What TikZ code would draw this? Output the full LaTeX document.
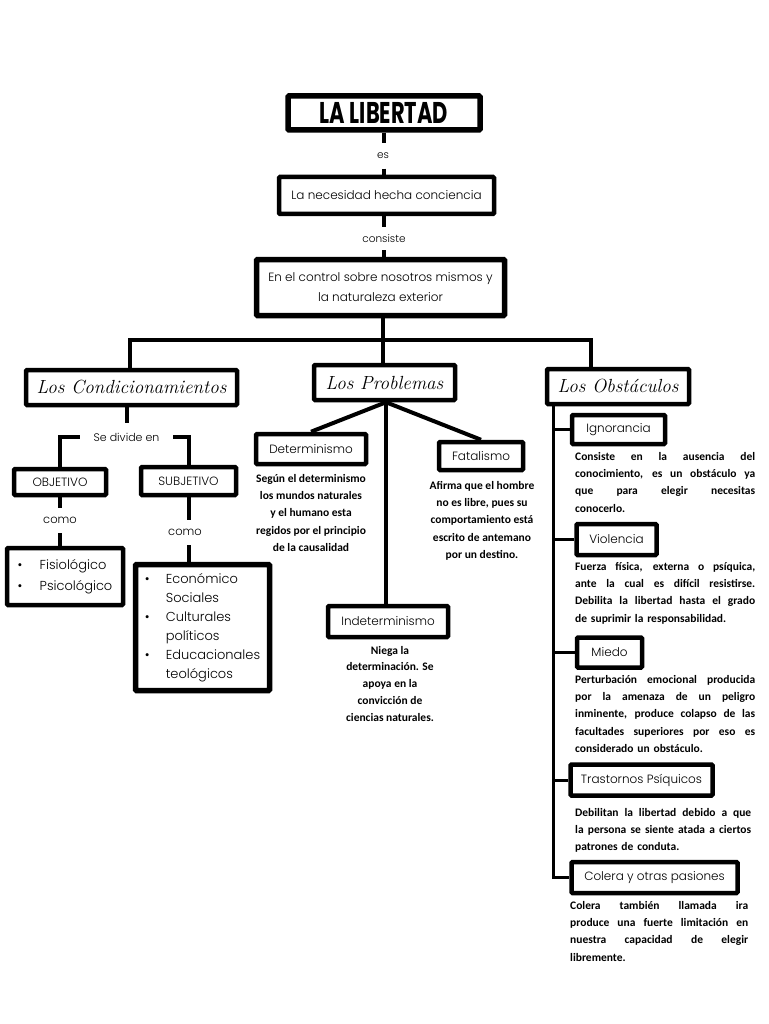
\documentclass[tikz,border=0pt]{standalone}
\usepackage{fontspec}
\usepackage{graphicx}
\newfontfamily\gothic{Poppins Light}
\newfontfamily\titlefont{Poppins}
\newfontfamily\calib{Carlito}
\usetikzlibrary{calc}
\tikzset{
  box/.style={draw, line width=4.5pt, rounded corners=1pt, inner sep=0pt, align=center, font=\gothic\fontsize{12}{20}\selectfont},
  heavy/.style={line width=5.5pt},
  head/.style={box, font=\itshape\fontsize{19}{20}\selectfont},
  conn/.style={line width=4pt, line join=miter},
  thinconn/.style={line width=3pt, line join=miter},
  lbl/.style={inner sep=0pt, font=\gothic\fontsize{10.5}{12}\selectfont},
  desc/.style={inner sep=0pt, anchor=north, font=\calib\bfseries\fontsize{11.5}{17.3}\selectfont},
  jdesc/.style={desc, anchor=north west, align=left},
  cdesc/.style={desc, align=center},
}
\newcommand\jl[2][180pt]{\makebox[#1][s]{\spaceskip=0.25em plus 1fil\relax #2}\\}
\begin{document}
\begin{tikzpicture}[x=1pt,y=-1pt]
\useasboundingbox (0,0) rectangle (768,1024);
% main chain
\node[box, heavy, minimum width=192, minimum height=34] (title) at (384,113) {\scalebox{0.7}[1]{\titlefont\fontsize{30}{30}\selectfont\bfseries LA LIBERTAD}};
\node[lbl, minimum height=25] (es) at (383,156) {es};
\node[box, minimum width=215, minimum height=37] (nec) at (386.5,195.5) {La necesidad hecha conciencia};
\node[lbl, minimum height=23] (cons) at (384,238.5) {consiste};
\node[box, heavy, minimum width=248, minimum height=56] (ctrl) at (380.5,287.5) {En el control sobre nosotros mismos y\\la naturaleza exterior};
\draw[conn] (title.south) -- (title.south |- es.north);
\draw[conn] (title.south |- es.south) -- (title.south |- nec.north);
\draw[conn] (nec.south -| cons.north) -- (cons.north);
\draw[conn] (cons.south) -- (cons.south |- ctrl.north);
% headings
\node[head, minimum width=211, minimum height=35] (cond) at (131.5,387.5) {Los Condicionamientos};
\node[head, minimum width=141, minimum height=35] (prob) at (384.5,382.5) {Los Problemas};
\node[head, minimum width=142, minimum height=35] (obst) at (618,386.5) {Los Obstáculos};
\coordinate (bar) at (383,340);
\coordinate (barL) at (130,340);
\coordinate (barR) at (591,340);
\draw[conn] (bar |- ctrl.south) -- (bar);
\draw[conn] (barL |- cond.north) -- (barL) -- (barR) -- (barR |- obst.north);
\draw[conn] (bar) -- (bar |- prob.north);
% condicionamientos
\node[lbl, minimum width=93, minimum height=28, font=\gothic\fontsize{11}{12}\selectfont] (sd) at (126.5,437) {Se divide en};
\node[box, minimum width=92, minimum height=26] (obj) at (60,482) {OBJETIVO};
\node[box, minimum width=95, minimum height=28] (subj) at (188.5,481) {SUBJETIVO};
\draw[conn] (sd.north |- cond.south) -- (sd.north);
\draw[conn] (sd.west) -| (obj.north);
\draw[conn] (sd.east) -| (subj.north);
\node[lbl, minimum height=25, font=\gothic\fontsize{11.5}{12}\selectfont] (como1) at (60,520.5) {como};
\node[lbl, minimum height=25, font=\gothic\fontsize{11.5}{12}\selectfont] (como2) at (185,532.5) {como};
\node[box, minimum width=116, minimum height=57, align=left, font=\gothic\fontsize{13}{21}\selectfont] (fis) at (65,576.5) {\makebox[22pt][l]{\textbullet}Fisiológico\\\makebox[22pt][l]{\textbullet}Psicológico};
\node[box, heavy, minimum width=134, minimum height=126, align=left, font=\gothic\fontsize{13}{19}\selectfont] (eco) at (202.5,627.5) {\makebox[21pt][l]{\textbullet}Económico\\\hspace*{21pt}Sociales\\\makebox[21pt][l]{\textbullet}Culturales\\\hspace*{21pt}políticos\\\makebox[21pt][l]{\textbullet}Educacionales\\\hspace*{21pt}teológicos};
\draw[conn] (obj.south) -- (obj.south |- como1.north);
\draw[conn] (obj.south |- como1.south) -- (obj.south |- fis.north);
\draw[conn] (subj.south) -- (subj.south |- como2.north);
\draw[conn] (subj.south |- como2.south) -- (subj.south |- eco.north);
% problemas
\node[box, minimum width=110, minimum height=30] (det) at (311,449) {Determinismo};
\node[box, minimum width=84, minimum height=28] (fat) at (481,456) {Fatalismo};
\node[box, minimum width=120, minimum height=31] (indet) at (388,621.5) {Indeterminismo};
\coordinate (pb) at ($(prob.south)+(1.5,0)$);
\draw[conn] (pb) -- (det.north);
\draw[conn] (pb) -- (fat.north);
\draw[conn] (pb) -- (pb |- indet.north);
\node[cdesc] (detT) at (311,470) {\strut Según el determinismo\\los mundos naturales\\y el humano esta\\regidos por el principio\\de la causalidad};
\node[cdesc] (fatT) at (482,477) {\strut Afirma que el hombre\\no es libre, pues su\\comportamiento está\\escrito de antemano\\por un destino.};
\node[cdesc, font=\calib\bfseries\fontsize{11.5}{16.9}\selectfont] (indetT) at (390,642) {\strut Niega la\\determinación. Se\\apoya en la\\convicción de\\ciencias naturales.};
% obstaculos
\node[box, minimum width=93, minimum height=29] (ign) at (618.5,429.5) {Ignorancia};
\node[box, minimum width=80, minimum height=31] (vio) at (616.5,539.5) {Violencia};
\node[box, minimum width=65, minimum height=30] (mie) at (609.5,652.5) {Miedo};
\node[box, minimum width=142, minimum height=31] (tras) at (641.5,780) {Trastornos Psíquicos};
\node[box, minimum width=166, minimum height=31] (col) at (654.5,877.5) {Colera y otras pasiones};
\coordinate (ov) at ($(obst.south west)+(9,0)$);
\draw[thinconn] (ov) -- (ov |- col.west) -- (col.west);
\foreach \n in {ign,vio,mie,tras} \draw[thinconn] (ov |- \n.west) -- (\n.west);
\node[jdesc, text width=180pt] (ignT) at (575,448) {\strut\jl{Consiste en la ausencia del}\jl{conocimiento, es un obstáculo ya}\jl{que para elegir necesitas}conocerlo.};
\node[jdesc, text width=180pt] (vioT) at (575,558) {\strut\jl{Fuerza física, externa o psíquica,}\jl{ante la cual es difícil resistirse.}\jl{Debilita la libertad hasta el grado}de suprimir la responsabilidad.};
\node[jdesc, text width=180pt] (mieT) at (575,671) {\strut\jl{Perturbación emocional producida}\jl{por la amenaza de un peligro}\jl{inminente, produce colapso de las}\jl{facultades superiores por eso es}considerado un obstáculo.};
\node[jdesc, text width=176pt] (trasT) at (575,804) {\strut\jl[176pt]{Debilitan la libertad debido a que}\jl[176pt]{la persona se siente atada a ciertos}patrones de conduta.};
\node[jdesc, text width=178pt] (colT) at (570,897) {\strut\jl[178pt]{Colera también llamada ira}\jl[178pt]{produce una fuerte limitación en}\jl[178pt]{nuestra capacidad de elegir}libremente.};
\end{tikzpicture}
\end{document}
